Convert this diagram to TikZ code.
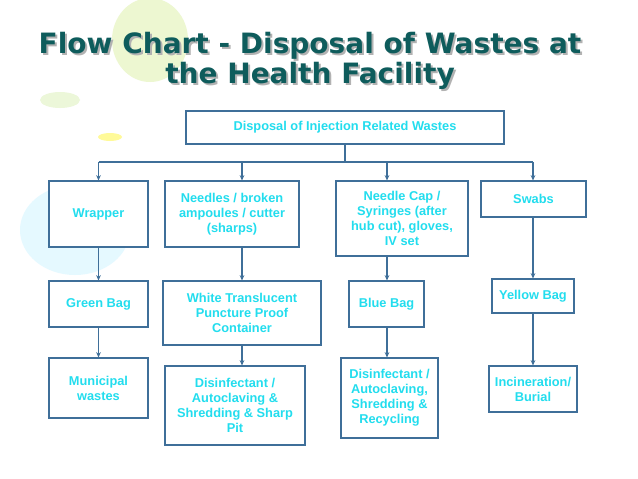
\documentclass[tikz,border=0pt]{standalone}
\usepackage{fontspec}
\setmainfont{Liberation Sans}
\newfontfamily\titlefont{DejaVu Sans}
\usetikzlibrary{arrows.meta}
\definecolor{boxc}{HTML}{3F6F99}
\definecolor{txtc}{HTML}{22DDEE}
\definecolor{titc}{HTML}{0E5C5C}
\tikzset{
 bx/.style={draw=boxc,line width=0.8pt,fill=white,text=txtc,font=\bfseries\fontsize{9.6pt}{11.2pt}\selectfont,align=center,inner sep=0pt},
 ln/.style={draw=boxc,line width=0.8pt},
 ar/.style={ln,-{Stealth[length=4pt,width=3.5pt]}},
 ttl/.style={font=\titlefont\bfseries\fontsize{21pt}{22pt}\selectfont, align=center}
}
\newcommand{\bxat}[6]{\node[bx,minimum width={(#4-#2)*0.75pt},minimum height={(#5-#3)*0.75pt}] (#1) at ({(#2+#4)/2},{(#3+#5)/2}) {#6};}
\begin{document}
\begin{tikzpicture}[x=0.75pt,y=-0.75pt]
\useasboundingbox (0,0) rectangle (638,478);
\fill[white] (0,0) rectangle (638,478);
% faint decorations
\fill[yellow!60!green!18] (150,40) ellipse (38 and 42);
\fill[blue!25!cyan!10] (75,230) ellipse (55 and 45);
\fill[yellow!50!green!15] (60,100) ellipse (20 and 8);
\fill[yellow!40] (110,137) ellipse (12 and 4);
% title
\node[text=gray!60, ttl] at (312,63) {Flow Chart - Disposal of Wastes at\\the Health Facility};
\node (title) [text=titc, ttl] at (310,61) {Flow Chart - Disposal of Wastes at\\the Health Facility};
\bxat{top}{186}{111}{504}{144}{Disposal of Injection Related Wastes}
\bxat{a1}{49}{181}{148}{247}{Wrapper}
\bxat{b1}{165}{181}{299}{247}{Needles / broken\\ampoules / cutter\\(sharps)}
\bxat{c1}{336}{181}{468}{256}{Needle Cap /\\Syringes (after\\hub cut), gloves,\\IV set}
\bxat{d1}{481}{181}{586}{217}{Swabs}
\bxat{a2}{49}{281}{148}{327}{Green Bag}
\bxat{b2}{163}{281}{321}{345}{White Translucent\\Puncture Proof\\Container}
\bxat{c2}{349}{281}{424}{327}{Blue Bag}
\bxat{d2}{492}{279}{574}{313}{Yellow Bag}
\bxat{a3}{49}{358}{148}{418}{Municipal\\wastes}
\bxat{b3}{165}{366}{305}{445}{Disinfectant /\\Autoclaving \&\\Shredding \& Sharp\\Pit}
\bxat{c3}{341}{358}{438}{438}{Disinfectant /\\Autoclaving,\\Shredding \&\\Recycling}
\bxat{d3}{489}{366}{577}{412}{Incineration/\\Burial}
\coordinate (j) at (345,162);
\coordinate (ja) at (a1.north|-j);
\coordinate (jb) at (242,162);
\coordinate (jc) at (387,162);
\coordinate (jd) at (533,162);
\draw[ln] (top.south-|j) -- (j);
\draw[ln] (ja) -- (jd);
\draw[ar] (ja) -- (a1.north);
\draw[ar] (jb) -- (jb|-b1.north);
\draw[ar] (jc) -- (jc|-c1.north);
\draw[ar] (jd) -- (jd|-d1.north);
\draw[ar] (a1.south) -- (a2.north);
\draw[ar] (jb|-b1.south) -- (jb|-b2.north);
\draw[ar] (jc|-c1.south) -- (jc|-c2.north);
\draw[ar] (jd|-d1.south) -- (jd|-d2.north);
\draw[ar] (a2.south) -- (a3.north);
\draw[ar] (jb|-b2.south) -- (jb|-b3.north);
\draw[ar] (jc|-c2.south) -- (jc|-c3.north);
\draw[ar] (jd|-d2.south) -- (jd|-d3.north);
\end{tikzpicture}
\end{document}
